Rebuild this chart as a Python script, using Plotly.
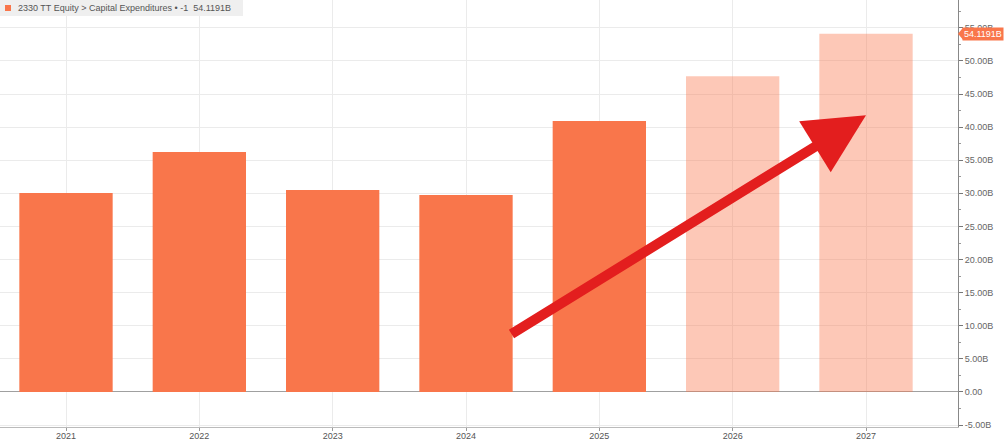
import plotly.graph_objects as go

years = [2021, 2022, 2023, 2024, 2025, 2026, 2027]
capex_b = [30.06, 36.25, 30.5, 29.76, 40.94, 47.7, 54.1191]
is_estimate = [False, False, False, False, False, True, True]
y_ticks = [-5, 0, 5, 10, 15, 20, 25, 30, 35, 40, 45, 50, 55]
y_tick_text = ["-5.00B", "0.00", "5.00B", "10.00B", "15.00B", "20.00B", "25.00B",
               "30.00B", "35.00B", "40.00B", "45.00B", "50.00B", "55.00B"]
legend_text = "2330 TT Equity > Capital Expenditures \u2022 -1  54.1191B"
last_label = "54.1191B"

ORANGE = "#F9764B"
ORANGE_EST = "rgba(249,118,75,0.4)"
RED = "#E31E1E"
W, H = 1004, 442
L, R, T, B = 0, 46, 0, 15
pw = W - L - R
ph = H - T - B
Y0, Y1 = -5.29, 59.2

colors = [ORANGE_EST if e else ORANGE for e in is_estimate]

fig = go.Figure()
fig.add_trace(go.Bar(x=years, y=capex_b, marker=dict(color=colors, line=dict(width=0)),
                     width=0.7, showlegend=False, hoverinfo="skip"))

fig.update_layout(
    width=W, height=H,
    margin=dict(l=L, r=R, t=T, b=B, pad=0, autoexpand=False),
    paper_bgcolor="white", plot_bgcolor="white",
    font=dict(family="Liberation Sans, Arial, sans-serif", size=9, color="#555"),
    bargap=0.3,
)
fig.update_xaxes(
    range=[2020.505, 2027.69], tickvals=years, ticktext=[str(y) for y in years],
    showgrid=True, gridcolor="#EBEBEB", gridwidth=1, automargin=False,
    ticks="outside", ticklen=3, tickcolor="#999", ticklabelstandoff=-3,
    showline=True, linecolor="#BBBBBB", linewidth=1,
    tickfont=dict(size=9, color="#555"), zeroline=False,
)
fig.update_yaxes(
    range=[Y0, Y1], side="right", tickvals=y_ticks, ticktext=y_tick_text,
    showgrid=True, gridcolor="#EBEBEB", gridwidth=1, automargin=False,
    ticks="outside", ticklen=4, tickcolor="#777",
    minor=dict(dtick=2.5, tick0=0, ticks="outside", ticklen=2, tickcolor="#999", showgrid=False),
    showline=True, linecolor="#888", linewidth=1,
    zeroline=True, zerolinecolor="#A0A0A0", zerolinewidth=1,
    tickfont=dict(size=9, color="#666"),
)

# legend box
fig.add_shape(type="rect", xref="paper", yref="paper", x0=0, x1=243 / pw,
              y0=1 - 16 / ph, y1=1, fillcolor="#EFEFEF", line=dict(width=0), layer="above")
fig.add_shape(type="rect", xref="paper", yref="paper", x0=5 / pw, x1=11 / pw,
              y0=1 - 11 / ph, y1=1 - 5 / ph, fillcolor=ORANGE, line=dict(width=0), layer="above")
fig.add_annotation(xref="paper", yref="paper", x=16 / pw, y=1 - 8 / ph, text=legend_text,
                   showarrow=False, xanchor="left", yanchor="middle",
                   font=dict(size=9, color="#555"))

# last value label
fig.add_annotation(xref="paper", yref="y", x=1, xshift=4, y=capex_b[-1], text=last_label,
                   showarrow=False, xanchor="left", yanchor="middle", bgcolor=ORANGE,
                   borderpad=1, font=dict(size=9, color="white"))
ypx = (capex_b[-1] - Y0) / (Y1 - Y0)
fig.add_shape(type="path", xref="paper", yref="paper",
              path=f"M 1 {ypx} L {1 + 5 / pw} {ypx + 6 / ph} L {1 + 5 / pw} {ypx - 6 / ph} Z",
              fillcolor=ORANGE, line=dict(width=0), layer="above")

# trend arrow
fig.add_annotation(x=2027.0, y=41.8, ax=2024.33, ay=8.6, xref="x", yref="y",
                   axref="x", ayref="y", text="", showarrow=True, arrowhead=2,
                   arrowsize=1.2, arrowwidth=10, arrowcolor=RED, standoff=0)

fig.write_html("out.html", config={"displayModeBar": False},
               post_script="document.body.style.margin='0';document.body.style.overflow='hidden';")
